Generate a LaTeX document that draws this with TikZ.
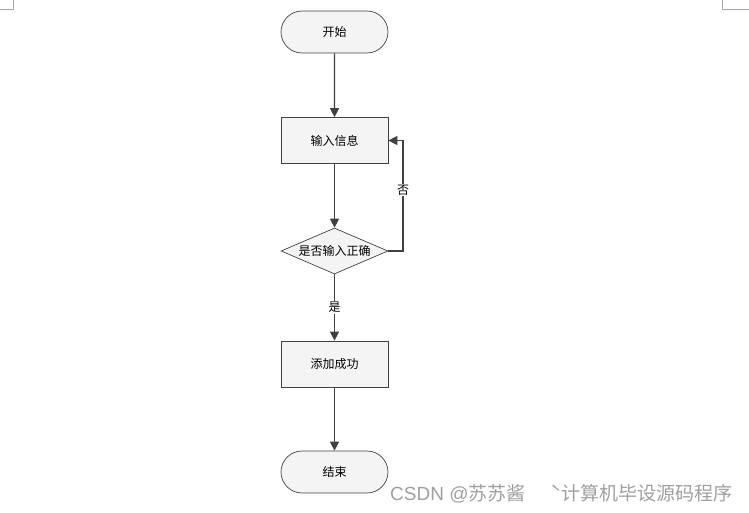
\documentclass[tikz,border=0pt]{standalone}
\usepackage{fontspec}
\setmainfont{Liberation Sans}
\newfontfamily\cjk{Noto Sans CJK SC}
\usetikzlibrary{shapes.geometric,shapes.misc,arrows.meta}
\definecolor{linec}{HTML}{404040}
\definecolor{fillc}{HTML}{F4F4F4}
\tikzset{
  base/.style={draw=linec, line width=0.7pt, fill=fillc, font=\cjk\fontsize{12}{14}\selectfont, inner sep=0pt},
  term/.style={base, rounded rectangle, minimum width=107pt, minimum height=42pt},
  proc/.style={base, rectangle, minimum width=107pt, minimum height=46pt},
  dec/.style={base, diamond, minimum width=107pt, minimum height=46pt, aspect=2.3},
  conn/.style={draw=linec, line width=1.3pt, -{Triangle[length=9pt,width=9pt]}},
  lbl/.style={fill=white, font=\cjk\fontsize{12}{14}\selectfont, inner sep=1pt},
}
\begin{document}
\begin{tikzpicture}[x=1pt,y=-1pt]
\useasboundingbox (0,0) rectangle (749,513);
\draw[gray!70, line width=0.6pt] (0,9) -- (13,9) -- (13,0);
\draw[gray!70, line width=0.6pt] (722,0) -- (722,9) -- (749,9);
\node[term] (start) at (334.5,32) {开始};
\node[proc] (input) at (334.5,140.5) {输入信息};
\node[dec] (check) at (334.5,251) {};
\node[font=\cjk\fontsize{12}{14}\selectfont] (checktext) at (check) {是否输入正确};
\node[proc] (ok) at (334.5,364) {添加成功};
\node[term] (end) at (334.5,472) {结束};
\draw[conn] (start) -- (input);
\draw[conn] (input) -- (check);
\draw[conn] (check) -- node[lbl] {是} (ok);
\draw[conn] (ok) -- (end);
\coordinate (r1) at (403,251);
\coordinate (r2) at (403,140.5);
\draw[conn] (check.east) -- (r1) -- node[lbl, pos=0.55] {否} (r2) -- (input.east);
\node[anchor=west, text=gray!75, font=\fontsize{19}{22}\selectfont, inner sep=0pt] (wm) at (390,494) {CSDN @{\cjk 苏苏酱}\hspace{1.3em}{\cjk ˋ计算机毕设源码程序}};
\end{tikzpicture}
\end{document}
